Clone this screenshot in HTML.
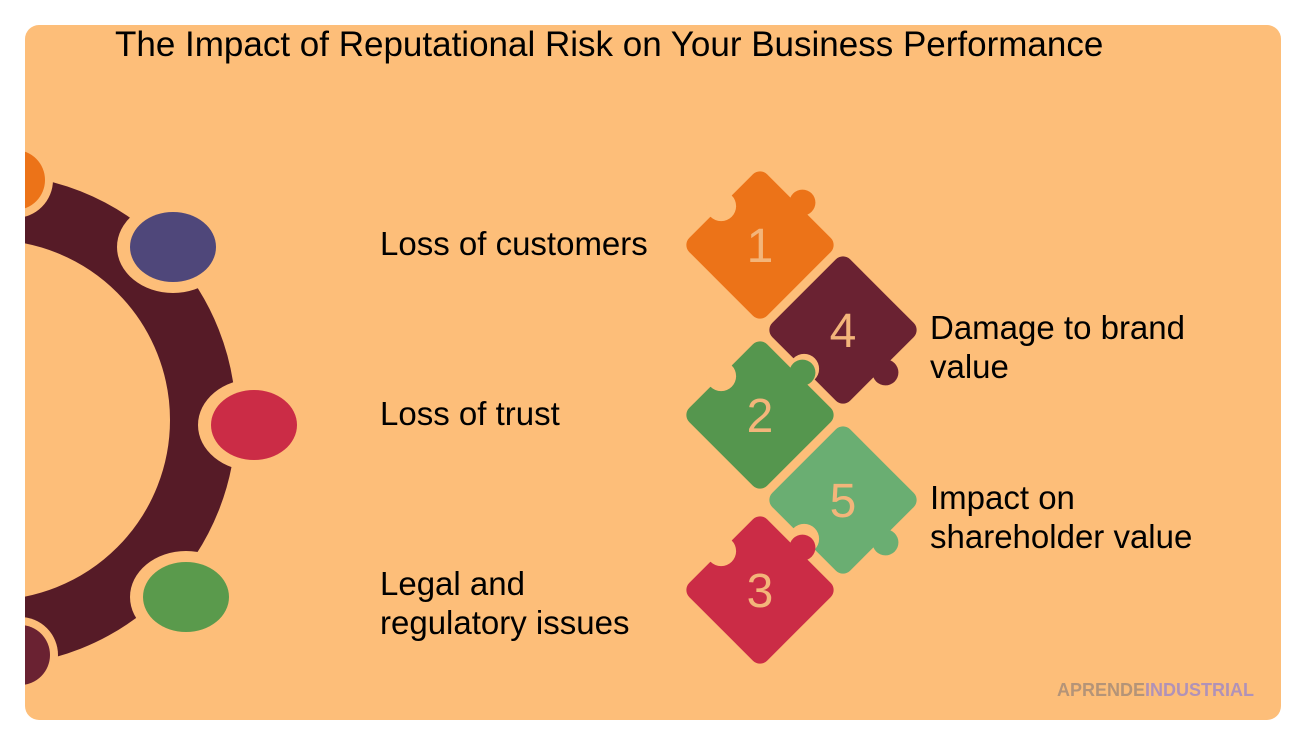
<!DOCTYPE html>
<html><head><style>
body{margin:0;width:1306px;height:746px;background:#fff;position:relative;overflow:hidden;font-family:"Liberation Sans",sans-serif}
.panel{position:absolute;left:25px;top:25px;width:1256px;height:695px;background:#FDBE79;border-radius:14px;overflow:hidden}
.t{position:absolute;color:#000;font-size:33px;line-height:39px;white-space:nowrap}
</style></head><body>
<div class="panel">
<svg width="1256" height="695" style="position:absolute;left:0;top:0">
<g transform="translate(-25,-25)">
<circle cx="-10" cy="420" r="213" fill="none" stroke="#561B27" stroke-width="66"/>
<circle cx="15" cy="180" r="38" fill="#FDBE79"/><circle cx="15" cy="180" r="30" fill="#EC7318"/>
<ellipse cx="173" cy="247" rx="56" ry="46" fill="#FDBE79"/><ellipse cx="173" cy="247" rx="43" ry="35" fill="#4F477A"/>
<ellipse cx="254" cy="425" rx="56" ry="46" fill="#FDBE79"/><ellipse cx="254" cy="425" rx="43" ry="35" fill="#CB2C46"/>
<ellipse cx="186" cy="597" rx="56" ry="46" fill="#FDBE79"/><ellipse cx="186" cy="597" rx="43" ry="35" fill="#5A9A4C"/>
<circle cx="20" cy="655" r="38" fill="#FDBE79"/><circle cx="20" cy="655" r="30" fill="#6A2232"/>
<g font-family="Liberation Sans" font-size="48" fill="#F3B57A" text-anchor="middle">
<g transform="translate(760,245) rotate(45)"><rect x="-55" y="-55" width="110" height="110" rx="10" fill="#EC7318"/><circle cx="0" cy="-60" r="13" fill="#EC7318"/><circle cx="-55" cy="0" r="15" fill="#FDBE79"/></g>
<text x="760" y="262">1</text>
<g transform="translate(843,330) rotate(45)"><rect x="-55" y="-55" width="110" height="110" rx="10" fill="#6A2232"/><circle cx="60" cy="0" r="13" fill="#6A2232"/><circle cx="0" cy="55" r="15" fill="#FDBE79"/></g>
<text x="843" y="347">4</text>
<g transform="translate(760,415) rotate(45)"><rect x="-55" y="-55" width="110" height="110" rx="10" fill="#55964E"/><circle cx="0" cy="-60" r="13" fill="#55964E"/><circle cx="-55" cy="0" r="15" fill="#FDBE79"/></g>
<text x="760" y="432">2</text>
<g transform="translate(843,500) rotate(45)"><rect x="-55" y="-55" width="110" height="110" rx="10" fill="#6AAE72"/><circle cx="60" cy="0" r="13" fill="#6AAE72"/><circle cx="0" cy="55" r="15" fill="#FDBE79"/></g>
<text x="843" y="517">5</text>
<g transform="translate(760,590) rotate(45)"><rect x="-55" y="-55" width="110" height="110" rx="10" fill="#CB2C46"/><circle cx="0" cy="-60" r="13" fill="#CB2C46"/><circle cx="-55" cy="0" r="15" fill="#FDBE79"/></g>
<text x="760" y="607">3</text>
</g>
</g>
</svg>
</div>
<div style="position:absolute;left:115px;top:25px;font-size:35px;white-space:nowrap">The Impact of Reputational Risk on Your Business Performance</div>
<div class="t" style="left:380px;top:224px">Loss of customers</div>
<div class="t" style="left:380px;top:394px">Loss of trust</div>
<div class="t" style="left:380px;top:564px">Legal and<br>regulatory issues</div>
<div class="t" style="left:930px;top:308px">Damage to brand<br>value</div>
<div class="t" style="left:930px;top:478px">Impact on<br>shareholder value</div>
<div style="position:absolute;left:1057px;top:680px;font-size:18px;font-weight:bold;color:#B49478;white-space:nowrap">APRENDE<span style="color:#B092B8">INDUSTRIAL</span></div>
</body></html>
